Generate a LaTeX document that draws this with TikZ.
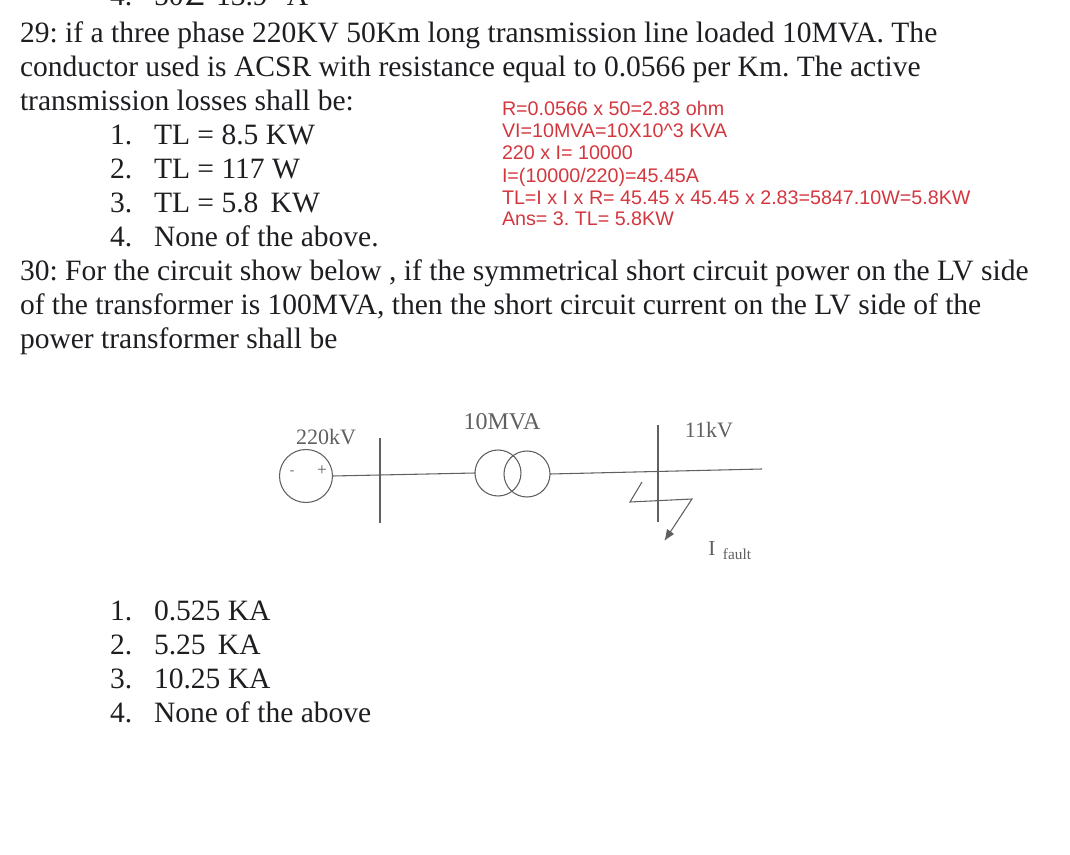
\documentclass[tikz,border=0pt]{standalone}
\usepackage{fontspec}
\setmainfont{Liberation Serif}
\newfontfamily\redfont{Liberation Sans}
\newfontfamily\symfont{DejaVu Sans}
\definecolor{ink}{HTML}{1E1E22}
\definecolor{redink}{HTML}{D4363E}
\definecolor{scan}{HTML}{606060}
\begin{document}
\frenchspacing
\begin{tikzpicture}[x=0.75pt,y=-0.75pt,
  txt/.style={anchor=base west,inner sep=0pt,outer sep=0pt,text=ink,font=\fontsize{22.15pt}{25pt}\selectfont},
  red/.style={anchor=base west,inner sep=0pt,outer sep=0pt,text=redink,font=\redfont\fontsize{14.77pt}{17pt}\selectfont},
  lab/.style={inner sep=0pt,outer sep=0pt,text=scan,font=\fontsize{16.5pt}{19pt}\selectfont},
  wire/.style={draw=scan,line width=0.8pt},
  ring/.style={circle,draw=scan,line width=0.8pt,inner sep=0pt,outer sep=0pt,minimum size=#1}]
\useasboundingbox (0,0) rectangle (1070,855);
\clip (0,0) rectangle (1070,855);
% question 29
\node[txt] (top1) at (110,6) {4.};
\node[txt] (top2) at (154,6) {50{\symfont\fontsize{19pt}{20pt}\selectfont∠}-13.9° A};
\node[txt] (q1) at (20,43) {29: if a three phase 220KV 50Km long transmission line loaded 10MVA. The};
\node[txt] (q2) at (20,77) {conductor used is ACSR with resistance equal to 0.0566 per Km. The active};
\node[txt] (q3) at (20,111) {transmission losses shall be:};
\node[txt] (a1n) at (110,145) {1.};\node[txt] (a1) at (154,145) {TL = 8.5 KW};
\node[txt] (a2n) at (110,179) {2.};\node[txt] (a2) at (154,179) {TL = 117 W};
\node[txt] (a3n) at (110,213) {3.};\node[txt] (a3) at (154,213) {TL = 5.8\, KW};
\node[txt] (a4n) at (110,247) {4.};\node[txt] (a4) at (154,247) {None of the above.};
% red working
\node[red] (r1) at (502,116) {R=0.0566 x 50=2.83 ohm};
\node[red] (r2) at (502,138) {VI=10MVA=10X10\^{}3 KVA};
\node[red] (r3) at (502,160) {220 x I= 10000};
\node[red] (r4) at (502,183) {I=(10000/220)=45.45A};
\node[red] (r5) at (502,205) {TL=I x I x R= 45.45 x 45.45 x 2.83=5847.10W=5.8KW};
\node[red] (r6) at (502,226) {Ans= 3. TL= 5.8KW};
% question 30
\node[txt] (p1) at (20,281) {30: For the circuit show below , if the symmetrical short circuit power on the LV side};
\node[txt] (p2) at (20,315) {of the transformer is 100MVA, then the short circuit current on the LV side of the};
\node[txt] (p3) at (20,349) {power transformer shall be};
% circuit
\node[ring=39.75pt] (src) at (306,476) {};
\node[lab,font=\fontsize{10pt}{12pt}\selectfont] (minus) at (292,473) {-};
\node[lab,font=\fontsize{13pt}{14pt}\selectfont] (plus) at (322,471) {+};
\node[ring=34.5pt] (t1) at (498,473) {};
\node[ring=34.5pt] (t2) at (527,474) {};
\coordinate (b1t) at (380,438);
\coordinate (b1b) at (380,523);
\coordinate (b2t) at (658,425);
\coordinate (b2b) at (658,522);
\coordinate (lineend) at (762,469);
\coordinate (f1) at (642,482);
\coordinate (f2) at (630,502);
\coordinate (f3) at (692,499);
\coordinate (f4) at (665,540);
\draw[wire] (b1t) -- (b1b);
\draw[wire] (b2t) -- (b2b);
\draw[wire] (src.east) -- (t1.west);
\draw[wire] (t2.east) -- (lineend);
\draw[wire] (f1) -- (f2) -- (f3) -- (f4);
\fill[scan] (f4) -- (667,529) -- (674,534) -- cycle;
\node[lab] (l220) at (326,437) {220kV};
\node[lab,font=\fontsize{18pt}{20pt}\selectfont] (l10) at (502,422) {10MVA};
\node[lab] (l11) at (709,430) {11kV};
\node[lab,font=\fontsize{16pt}{18pt}\selectfont] (lI) at (712,549) {I};
\node[lab,font=\fontsize{11.5pt}{13pt}\selectfont] (lfault) at (737,554) {fault};
% answers
\node[txt] (b1n) at (110,620) {1.};\node[txt] (b1x) at (154,620) {0.525 KA};
\node[txt] (b2n) at (110,654) {2.};\node[txt] (b2x) at (154,654) {5.25\, KA};
\node[txt] (b3n) at (110,688) {3.};\node[txt] (b3x) at (154,688) {10.25 KA};
\node[txt] (b4n) at (110,722) {4.};\node[txt] (b4x) at (154,722) {None of the above};
\end{tikzpicture}
\end{document}
